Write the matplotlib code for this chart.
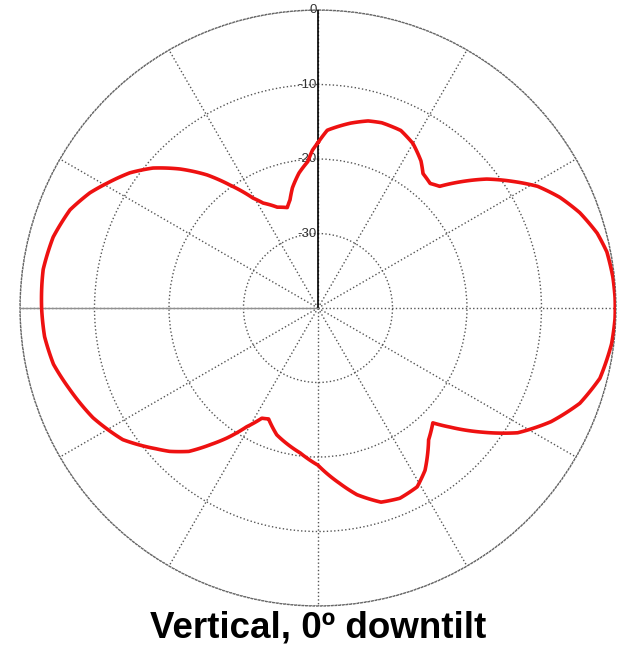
import matplotlib.pyplot as plt
import numpy as np

# vertical radiation pattern, angle in degrees (0 = up, clockwise), level in dB
angle_deg = [0, 3, 10, 15, 19, 25, 30, 35, 38, 42, 45, 48.4, 52.6, 57, 61, 65.4,
             70, 75, 79, 84, 88, 92, 97, 104, 110, 116, 122, 127, 132, 135, 140,
             146.6, 151, 156.7, 162, 168.2, 173, 180, 187, 198, 204, 207, 211, 215,
             218, 222, 226, 229, 236, 244, 252, 258, 264, 270, 275, 278, 285, 291.6,
             296.8, 300.6, 305.7, 310.3, 315.2, 320.2, 324.4, 329.4, 332.4, 338,
             343, 345.5, 348, 352, 356, 358, 360]
level_db = [-17.8, -16.1, -14.8, -14.0, -13.7, -13.7, -14.5, -15.9, -17.1, -17.5,
            -16.9, -14.5, -11.5, -8.8, -6.3, -4.3, -2.6, -1.2, -0.5, -0.2, -0.1,
            -0.1, -0.3, -1.0, -2.6, -5.2, -8.4, -12.3, -16.1, -18.2, -16.9, -13.9,
            -12.55, -12.2, -12.6, -14.4, -16.3, -18.9, -20.4, -22.1, -23.7, -23.4,
            -21.4, -18.7, -16.8, -14.1, -12.3, -11.2, -8.4, -6.4, -4.9, -3.7, -3.1,
            -2.9, -2.8, -2.75, -3.2, -4.2, -5.7, -7.1, -8.9, -10.95, -13.7, -16.75,
            -19.7, -22.85, -24.1, -25.4, -25.9, -25.0, -23.5, -21.7, -20.3, -18.8,
            -17.8]

ring_vals = [-30, -20, -10, 0]
ring_labels = ['-30', '-20', '-10', '0']
spoke_deg = np.arange(0, 360, 30)

fig = plt.figure(figsize=(6.33, 6.51), dpi=100)
ax = fig.add_axes([0.0316, 0.0691, 0.9415, 0.9155], projection='polar')
ax.set_theta_zero_location('N')
ax.set_theta_direction(-1)
ax.set_ylim(-40, 0)

ax.set_xticks(np.deg2rad(spoke_deg))
ax.set_xticklabels([])
ax.set_yticks(ring_vals)
ax.set_yticklabels([])
ax.grid(True, color='#555555', linestyle=':', linewidth=1.0)
ax.spines['polar'].set_color('#666666')
ax.spines['polar'].set_linestyle(':')
ax.spines['polar'].set_linewidth(1.0)

# solid axes lines (upper vertical black, left horizontal grey)
ax.plot([0, 0], [-40, 0], color='black', lw=1.2, zorder=3)
ax.plot([np.deg2rad(270)] * 2, [-40, 0], color='#909090', lw=1.0, zorder=3)

for v, s in zip(ring_vals, ring_labels):
    ax.annotate(s, xy=(0, v), xytext=(-1, 0), textcoords='offset points',
                ha='right', va='center', fontsize=9.5, color='#333333',
                family='Liberation Sans', zorder=4)

line, = ax.plot(np.deg2rad(angle_deg), level_db, color='#ee1111', lw=2.6,
                zorder=5, solid_joinstyle='round')
line.get_path()._interpolation_steps = 20  # draw segments as arcs

fig.text(0.503, 0.02, 'Vertical, 0º downtilt', ha='center', va='baseline',
         fontsize=26.5, fontweight='bold', family='Liberation Sans')

fig.savefig('out.png', dpi=100)
